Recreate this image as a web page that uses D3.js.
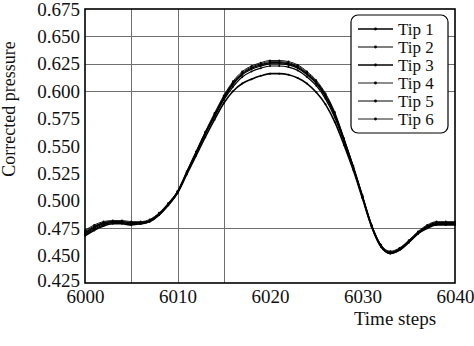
<!DOCTYPE html>
<html>
<head>
<meta charset="utf-8">
<script src="https://cdn.jsdelivr.net/npm/d3@7"></script>
<style>
  html, body { margin: 0; padding: 0; background: #fff; }
  svg { display: block; }
  svg text { font-family: "Liberation Serif", "DejaVu Serif", serif; fill: #111; }
</style>
</head>
<body>
<svg id="chart" width="474" height="346"></svg>
<script>
// Time steps 6000..6040
const steps = d3.range(6000, 6041);

// Corrected pressure at each probe tip
const tip1 = [0.468,0.473,0.477,0.479,0.479,0.478,0.479,0.481,0.487,0.496,0.507,0.524,0.541,0.558,0.574,0.589,0.600,0.607,0.611,0.614,0.616,0.616,0.615,0.612,0.607,0.599,0.588,0.572,0.551,0.528,0.502,0.476,0.458,0.452,0.455,0.462,0.470,0.475,0.478,0.478,0.478];
const tip2 = [0.470,0.475,0.479,0.480,0.480,0.479,0.480,0.482,0.488,0.497,0.508,0.525,0.543,0.561,0.577,0.592,0.604,0.613,0.618,0.621,0.623,0.623,0.622,0.619,0.613,0.605,0.593,0.576,0.554,0.530,0.503,0.477,0.459,0.453,0.456,0.463,0.471,0.476,0.479,0.479,0.479];
const tip3 = [0.471,0.476,0.480,0.481,0.481,0.480,0.480,0.482,0.488,0.497,0.508,0.526,0.544,0.562,0.578,0.594,0.607,0.616,0.621,0.624,0.626,0.626,0.625,0.622,0.616,0.608,0.596,0.579,0.556,0.531,0.504,0.477,0.459,0.453,0.456,0.463,0.471,0.477,0.480,0.480,0.480];
const tip4 = [0.473,0.478,0.481,0.482,0.482,0.481,0.481,0.483,0.489,0.498,0.509,0.527,0.545,0.563,0.580,0.596,0.609,0.618,0.623,0.626,0.628,0.628,0.627,0.624,0.618,0.610,0.598,0.581,0.557,0.532,0.505,0.478,0.460,0.454,0.457,0.464,0.472,0.478,0.481,0.481,0.481];
const tip5 = [0.469,0.474,0.478,0.480,0.480,0.479,0.479,0.481,0.487,0.496,0.507,0.525,0.543,0.561,0.577,0.593,0.606,0.615,0.620,0.623,0.625,0.625,0.624,0.621,0.615,0.607,0.595,0.578,0.555,0.530,0.503,0.476,0.458,0.452,0.455,0.462,0.470,0.476,0.479,0.479,0.479];
const tip6 = [0.472,0.477,0.480,0.481,0.481,0.480,0.480,0.482,0.488,0.497,0.508,0.526,0.544,0.562,0.579,0.595,0.608,0.617,0.622,0.625,0.627,0.627,0.626,0.623,0.617,0.609,0.597,0.580,0.556,0.531,0.504,0.477,0.459,0.453,0.456,0.463,0.471,0.477,0.480,0.480,0.480];

const seriesNames = ["Tip 1", "Tip 2", "Tip 3", "Tip 4", "Tip 5", "Tip 6"];
const seriesValues = [tip1, tip2, tip3, tip4, tip5, tip6];

const xTicks = [6000, 6010, 6020, 6030, 6040];
const yTicks = [0.425, 0.450, 0.475, 0.500, 0.525, 0.550, 0.575, 0.600, 0.625, 0.650, 0.675];
const xGrid = [6005, 6010, 6015];
const yGrid = [0.475, 0.600, 0.625, 0.650];

const lineWidths = [1.6, 1.2, 1.4, 0.9, 1.2, 0.9];
const FONT = "Liberation Serif";

const svg = d3.select("#chart");
svg.append("rect").attr("width", 474).attr("height", 346).attr("fill", "#fff");

const L = 85, R = 455, T = 9, B = 283;
const x = d3.scaleLinear().domain([6000, 6040]).range([L, R]);
const y = d3.scaleLinear().domain([0.425, 0.675]).range([B, T]);

// grid
const grid = svg.append("g").attr("stroke", "#707070").attr("stroke-width", 1);
grid.selectAll("line.vx").data(xGrid).join("line")
  .attr("x1", d => Math.round(x(d)) + 0.5).attr("x2", d => Math.round(x(d)) + 0.5)
  .attr("y1", T).attr("y2", B);
grid.selectAll("line.hy").data(yGrid).join("line")
  .attr("x1", L).attr("x2", R)
  .attr("y1", d => Math.round(y(d)) + 0.5).attr("y2", d => Math.round(y(d)) + 0.5);

// series
const line = d3.line().x((d, i) => x(steps[i])).y(d => y(d)).curve(d3.curveMonotoneX);
const plot = svg.append("g");
seriesValues.forEach((vals, k) => {
  plot.append("path").datum(vals)
    .attr("d", line)
    .attr("fill", "none")
    .attr("stroke", "#000")
    .attr("stroke-width", lineWidths[k])
    .attr("stroke-linejoin", "round");
  plot.append("g").selectAll("circle").data(vals).join("circle")
    .attr("cx", (d, i) => x(steps[i]))
    .attr("cy", d => y(d))
    .attr("r", 1.0)
    .attr("fill", "#000");
});

// frame
svg.append("rect").attr("x", L).attr("y", T).attr("width", R - L).attr("height", B - T)
  .attr("fill", "none").attr("stroke", "#000").attr("stroke-width", 1.6);

// axes
const xAxis = svg.append("g").attr("transform", `translate(0,${B})`)
  .call(d3.axisBottom(x).tickValues(xTicks).tickSize(0).tickPadding(7).tickFormat(d3.format("d")));
xAxis.attr("font-family", FONT).attr("font-size", 19);
xAxis.select(".domain").remove();
xAxis.selectAll("text").style("font-family", FONT).style("font-size", "19px").attr("fill", "#111");

const yAxis = svg.append("g").attr("transform", `translate(${L},0)`)
  .call(d3.axisLeft(y).tickValues(yTicks).tickSize(0).tickPadding(5).tickFormat(d3.format(".3f")));
yAxis.attr("font-family", FONT).attr("font-size", 19);
yAxis.select(".domain").remove();
yAxis.selectAll("text").style("font-family", FONT).style("font-size", "19px").attr("fill", "#111");
// lift the lowest value label a touch so it clears the first step label
yAxis.selectAll(".tick text").filter(d => d === 0.425).attr("dy", "0.18em");

// axis titles
svg.append("text").attr("x", 395).attr("y", 325).attr("text-anchor", "middle")
  .style("font-size", "19px").text("Time steps");
svg.append("text").attr("transform", "translate(15,109) rotate(-90)").attr("text-anchor", "middle")
  .style("font-size", "18px").text("Corrected pressure");

// legend
const lg = svg.append("g");
lg.append("rect").attr("x", 351).attr("y", 15).attr("width", 97).attr("height", 118)
  .attr("rx", 7).attr("fill", "#fff").attr("stroke", "#000").attr("stroke-width", 1.2);
seriesNames.forEach((name, k) => {
  const yy = 29 + k * 18;
  lg.append("line").attr("x1", 358).attr("x2", 393).attr("y1", yy).attr("y2", yy)
    .attr("stroke", "#000").attr("stroke-width", lineWidths[k]);
  lg.append("circle").attr("cx", 375.5).attr("cy", yy).attr("r", 1.4).attr("fill", "#000");
  lg.append("text").attr("x", 398).attr("y", yy + 6).style("font-size", "17px").text(name);
});
</script>
</body>
</html>
